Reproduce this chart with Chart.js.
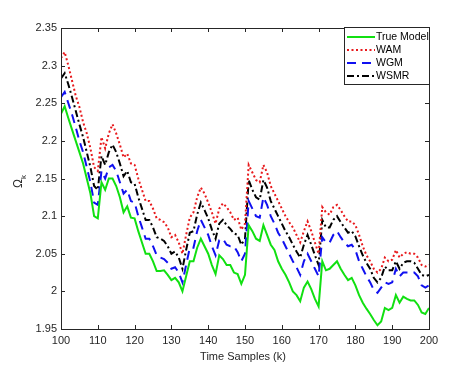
<!DOCTYPE html>
<html><head><meta charset="utf-8">
<script src="https://cdn.jsdelivr.net/npm/chart.js@4/dist/chart.umd.min.js"></script>
<style>html,body{margin:0;padding:0;background:#fff}#c{display:block}</style>
</head><body>
<canvas id="c" width="474" height="370"></canvas>
<script>
const xStart = 100;
const trueModel = [2.236,2.246,2.23,2.215,2.2,2.185,2.17,2.15,2.13,2.10,2.097,2.145,2.135,2.15,2.15,2.14,2.125,2.105,2.113,2.098,2.097,2.08,2.065,2.05,2.05,2.04,2.027,2.027,2.028,2.022,2.015,2.018,2.012,2.0,2.02,2.04,2.04,2.058,2.07,2.06,2.05,2.035,2.023,2.048,2.043,2.035,2.035,2.025,2.023,2.01,2.022,2.088,2.08,2.07,2.067,2.088,2.075,2.062,2.055,2.04,2.03,2.022,2.012,2.0,1.995,1.987,2.005,2.013,2.003,1.99,1.98,2.04,2.028,2.03,2.035,2.04,2.03,2.022,2.015,2.018,2.008,1.995,1.985,1.977,1.97,1.962,1.955,1.96,1.978,1.975,1.978,1.995,1.985,1.993,1.99,1.988,1.988,1.982,1.972,1.97,1.978];
const wam = [2.31,2.318,2.30,2.28,2.26,2.245,2.225,2.21,2.19,2.165,2.16,2.205,2.19,2.21,2.222,2.21,2.195,2.178,2.183,2.17,2.168,2.15,2.135,2.12,2.12,2.11,2.097,2.095,2.092,2.085,2.072,2.075,2.065,2.05,2.075,2.098,2.105,2.125,2.138,2.13,2.118,2.105,2.09,2.11,2.117,2.112,2.105,2.095,2.098,2.082,2.09,2.168,2.158,2.148,2.145,2.168,2.158,2.14,2.13,2.12,2.11,2.1,2.092,2.085,2.075,2.065,2.08,2.093,2.08,2.065,2.05,2.112,2.105,2.102,2.112,2.115,2.108,2.1,2.093,2.093,2.088,2.075,2.06,2.048,2.04,2.03,2.025,2.03,2.045,2.04,2.042,2.055,2.045,2.05,2.052,2.05,2.05,2.045,2.035,2.033,2.035];
const wgm = [2.258,2.265,2.25,2.235,2.218,2.2,2.185,2.165,2.145,2.118,2.115,2.16,2.15,2.165,2.168,2.16,2.145,2.13,2.135,2.12,2.118,2.1,2.085,2.07,2.07,2.06,2.048,2.045,2.043,2.038,2.03,2.032,2.025,2.012,2.035,2.058,2.058,2.08,2.095,2.085,2.075,2.06,2.048,2.068,2.07,2.062,2.06,2.06,2.052,2.04,2.05,2.12,2.11,2.1,2.098,2.125,2.115,2.1,2.09,2.078,2.07,2.06,2.05,2.04,2.032,2.022,2.04,2.05,2.04,2.03,2.02,2.072,2.065,2.065,2.075,2.08,2.072,2.065,2.06,2.062,2.055,2.04,2.03,2.02,2.012,2.002,1.998,2.005,2.012,2.01,2.012,2.03,2.02,2.025,2.025,2.025,2.025,2.02,2.008,2.005,2.008];
const wsmr = [2.283,2.29,2.275,2.258,2.24,2.222,2.205,2.185,2.165,2.14,2.135,2.18,2.168,2.185,2.195,2.185,2.17,2.153,2.16,2.145,2.143,2.125,2.11,2.095,2.095,2.085,2.072,2.07,2.067,2.06,2.05,2.053,2.045,2.03,2.055,2.078,2.08,2.102,2.118,2.108,2.097,2.082,2.07,2.09,2.095,2.088,2.083,2.077,2.075,2.062,2.07,2.148,2.135,2.125,2.122,2.148,2.138,2.12,2.11,2.1,2.09,2.08,2.072,2.062,2.053,2.045,2.062,2.075,2.062,2.048,2.035,2.095,2.085,2.085,2.095,2.1,2.092,2.085,2.078,2.08,2.073,2.06,2.048,2.038,2.03,2.018,2.012,2.018,2.033,2.028,2.028,2.04,2.03,2.038,2.04,2.04,2.038,2.03,2.022,2.02,2.022];
const seriesNames = ['True Model','WAM','WGM','WSMR'];
const xTicks = [100,110,120,130,140,150,160,170,180,190,200];
const yTicks = [1.95,2,2.05,2.1,2.15,2.2,2.25,2.3,2.35];
const xTitle = 'Time Samples (k)';
const yTitleMain = 'Ω';
const yTitleSub = 'k';

const toPts = arr => arr.map((v,i)=>({x:xStart+i,y:v}));
const styles = [
  {color:'#11e011', dash:[]},
  {color:'#e8191c', dash:[2,2.5]},
  {color:'#1010f0', dash:[9,6]},
  {color:'#000000', dash:[7,3,2,3]}
];
const allData = [trueModel, wam, wgm, wsmr];
const AXC = '#262626';
const FONT = 'Liberation Sans, Arial, sans-serif';

const frame = {
  id:'frame',
  afterDraw(chart){
    const ctx = chart.ctx, a = chart.chartArea;
    const xs = chart.scales.x, ys = chart.scales.y;
    ctx.save();
    ctx.strokeStyle = AXC; ctx.lineWidth = 1; ctx.setLineDash([]);
    ctx.strokeRect(Math.round(a.left)+0.5, Math.round(a.top)+0.5, Math.round(a.right-a.left), Math.round(a.bottom-a.top));
    const tl = 4;
    ctx.beginPath();
    xTicks.forEach(t=>{
      const px = Math.round(xs.getPixelForValue(t))+0.5;
      ctx.moveTo(px,a.bottom); ctx.lineTo(px,a.bottom-tl);
      ctx.moveTo(px,a.top); ctx.lineTo(px,a.top+tl);
    });
    yTicks.forEach(t=>{
      const py = Math.round(ys.getPixelForValue(t))+0.5;
      ctx.moveTo(a.left,py); ctx.lineTo(a.left+tl,py);
      ctx.moveTo(a.right,py); ctx.lineTo(a.right-tl,py);
    });
    ctx.stroke();
    // x title
    ctx.fillStyle = AXC;
    ctx.font = '11px ' + FONT;
    ctx.textAlign = 'center'; ctx.textBaseline = 'middle';
    ctx.fillText(xTitle, (a.left+a.right)/2 - 2, 357);
    // y title
    ctx.save();
    ctx.translate(19, (a.top+a.bottom)/2 + 3);
    ctx.rotate(-Math.PI/2);
    ctx.font = '12px ' + FONT;
    ctx.textAlign = 'left';
    const w1 = ctx.measureText(yTitleMain).width;
    ctx.font = '8px ' + FONT;
    const w2 = ctx.measureText(yTitleSub).width;
    const start = -(w1+w2)/2;
    ctx.font = '12px ' + FONT;
    ctx.fillText(yTitleMain, start, 0);
    ctx.font = '8px ' + FONT;
    ctx.fillText(yTitleSub, start+w1, 5);
    ctx.restore();
    // legend
    const lx = 344, ly = 27, lw = Math.round(a.right) - lx, lh = 57;
    ctx.fillStyle = '#fff';
    ctx.fillRect(lx+0.5, ly+0.5, lw, lh);
    ctx.strokeStyle = AXC;
    ctx.strokeRect(lx+0.5, ly+0.5, lw, lh);
    ctx.font = '10.5px ' + FONT;
    ctx.textAlign = 'left'; ctx.textBaseline = 'middle';
    seriesNames.forEach((n,i)=>{
      const yy = ly + 10 + i*13;
      ctx.strokeStyle = styles[i].color; ctx.lineWidth = 2;
      ctx.setLineDash(styles[i].dash);
      ctx.beginPath(); ctx.moveTo(347, yy); ctx.lineTo(375, yy); ctx.stroke();
      ctx.setLineDash([]);
      ctx.fillStyle = '#000';
      ctx.fillText(n, 376, yy);
    });
    ctx.restore();
  }
};

new Chart(document.getElementById('c'), {
  type:'line',
  data:{ datasets: allData.map((arr,i)=>({
    label: seriesNames[i], data: toPts(arr),
    borderColor: styles[i].color, borderDash: styles[i].dash,
    borderWidth: 2, pointRadius: 0, tension: 0, fill:false
  }))},
  options:{
    responsive:false, animation:false,
    layout:{padding:{left:0,right:45,top:28,bottom:0}},
    plugins:{legend:{display:false}, tooltip:{enabled:false}},
    scales:{
      x:{type:'linear', min:100, max:200,
        afterBuildTicks:s=>{s.ticks = xTicks.map(v=>({value:v}));},
        afterFit:s=>{s.height = 41;},
        grid:{display:false, drawTicks:false}, border:{display:false},
        ticks:{color:AXC, font:{family:FONT, size:11}, padding:5, maxRotation:0, autoSkip:false}},
      y:{type:'linear', min:1.95, max:2.35,
        afterBuildTicks:s=>{s.ticks = yTicks.map(v=>({value:v}));},
        afterFit:s=>{s.width = 61;},
        grid:{display:false, drawTicks:false}, border:{display:false},
        ticks:{color:AXC, font:{family:FONT, size:11}, padding:4, autoSkip:false,
          callback:v=>String(parseFloat(Number(v).toFixed(2)))}}
    }
  },
  plugins:[frame]
});
</script>
</body></html>
